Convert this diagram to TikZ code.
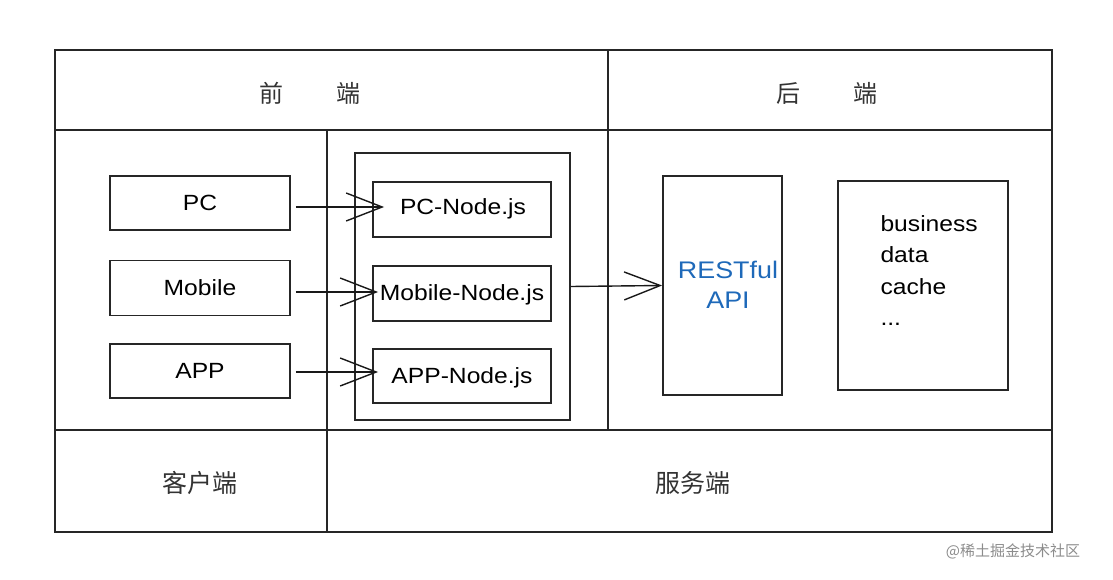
\documentclass[tikz,border=0pt]{standalone}
\usepackage{fontspec}
\setmainfont{Liberation Sans}
\newfontfamily\hand[FakeStretch=1.12]{Liberation Sans}
\newfontfamily\cjk{Noto Sans CJK SC}
\usetikzlibrary{arrows.meta}
\begin{document}
\begin{tikzpicture}[x=1pt,y=-1pt,
  frame/.style={draw=black!85,line width=2.2pt},
  grid/.style={draw=black!85,line width=1.8pt},
  box/.style={draw=black!85,line width=1.8pt,minimum width=#1,inner sep=0pt},
  lbl/.style={font=\hand\fontsize{22}{24}\selectfont},
  head/.style={font=\cjk\fontsize{24}{26}\selectfont,text=black!80},
  conn/.style={draw=black!90,line width=1.4pt,-{Straight Barb[length=36pt,width=28pt,line width=1.4pt]}}]
\useasboundingbox (0,0) rectangle (1113,580);
% outer frame and grid
\draw[frame] (55,50) rectangle (1052,532);
\draw[grid] (55,130) -- (1052,130);
\draw[grid] (55,430) -- (1052,430);
\draw[grid] (608,50) -- (608,430);
\draw[grid] (327,130) -- (327,532);
% headers
\node[head] (fe) at (310,93) {前\hspace{2.2em}端};
\node[head] (be) at (827,93) {后\hspace{2.2em}端};
\node[head,font=\cjk\fontsize{25}{27}\selectfont] (cl) at (200,483) {客户端};
\node[head,font=\cjk\fontsize{25}{27}\selectfont] (sv) at (693,483) {服务端};
% left boxes
\node[box=180pt,minimum height=54pt] (pc) at (200,203) {};
\node[box=180pt,minimum height=55pt] (mob) at (200,288) {};
\node[box=180pt,minimum height=54pt] (app) at (200,371) {};
\node[lbl] (pct) at (pc) {PC};
\node[lbl] (mobt) at (mob) {Mobile};
\node[lbl] (appt) at (app) {APP};
% node container
\node[box=215pt,minimum height=267pt] (cont) at (462.5,286.5) {};
\node[box=178pt,minimum height=55pt] (pcn) at (462,209.5) {};
\node[box=178pt,minimum height=55pt] (mobn) at (462,293.5) {};
\node[box=178pt,minimum height=54pt] (appn) at (462,376) {};
\node[lbl] (pcnt) at (463,209) {PC-Node.js};
\node[lbl] (mobnt) at (462,295) {Mobile-Node.js};
\node[lbl] (appnt) at (462,378) {APP-Node.js};
% backend boxes
\node[box=119pt,minimum height=219pt] (rest) at (722.5,285.5) {};
\node[lbl,align=center,font=\hand\fontsize{24}{30}\selectfont,text={rgb,255:red,30;green,105;blue,185}] (restt) at (728,285) {RESTful\\API};
\node[box=170pt,minimum height=209pt] (biz) at (923,285.5) {};
\node[lbl,align=left,anchor=north west,font=\hand\fontsize{22}{31.5}\selectfont] (bizt) at (877,212) {business\\data\\cache\\...};
% connectors
\coordinate (pce) at ([xshift=5pt,yshift=-4pt]pc.east);
\coordinate (mobe) at ([xshift=5pt,yshift=-4pt]mob.east);
\coordinate (appe) at ([xshift=5pt,yshift=-1pt]app.east);
\draw[conn] (pce) -- (pce -| pcn.west) -- ++(12,0);
\draw[conn] (mobe) -- (mobe -| mobn.west) -- ++(6,0);
\draw[conn] (appe) -- (appe -| appn.west) -- ++(6,0);
\draw[conn] (cont.east) -- (rest.west);
% watermark
\node[font=\cjk\fontsize{15}{17}\selectfont,text=black!45] (wm) at (1013,551) {@稀土掘金技术社区};
\end{tikzpicture}
\end{document}
